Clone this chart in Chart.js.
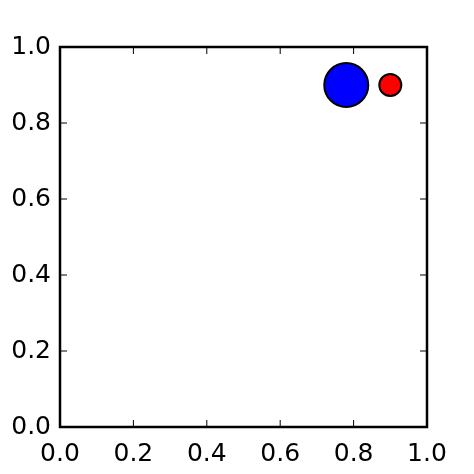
<!DOCTYPE html>
<html>
<head>
<meta charset="UTF-8">
<title>Bubbles</title>
<script src="https://cdn.jsdelivr.net/npm/chart.js"></script>
<style>
  html, body { margin: 0; padding: 0; background: #fff; }
  #wrap { width: 474px; height: 474px; }
</style>
</head>
<body>
<div id="wrap"><canvas id="chart" width="474" height="474"></canvas></div>
<script>
// data
const xValues = [0.78, 0.9];
const yValues = [0.9, 0.9];
const radii = [22, 11];
const fillColors = ['#0000ff', '#ff0000'];
const tickValues = [0, 0.2, 0.4, 0.6, 0.8, 1.0];

const points = xValues.map((x, i) => ({ x: x, y: yValues[i], r: radii[i] }));

// matplotlib-style frame with inward ticks on all four sides
const framePlugin = {
  id: 'frame',
  afterDraw(chart) {
    const { ctx, chartArea: a, scales } = chart;
    const len = 7;
    ctx.save();
    ctx.strokeStyle = '#000';
    ctx.lineWidth = 1;
    tickValues.forEach(v => {
      const px = scales.x.getPixelForValue(v);
      const py = scales.y.getPixelForValue(v);
      ctx.beginPath();
      ctx.moveTo(px, a.bottom); ctx.lineTo(px, a.bottom - len);
      ctx.moveTo(px, a.top); ctx.lineTo(px, a.top + len);
      ctx.moveTo(a.left, py); ctx.lineTo(a.left + len, py);
      ctx.moveTo(a.right, py); ctx.lineTo(a.right - len, py);
      ctx.stroke();
    });
    ctx.lineWidth = 2.5;
    ctx.strokeRect(a.left, a.top, a.right - a.left, a.bottom - a.top);
    ctx.restore();
  }
};

const tickFont = { family: 'DejaVu Sans', size: 25 };

new Chart(document.getElementById('chart'), {
  type: 'bubble',
  data: {
    datasets: [{
      data: points,
      backgroundColor: fillColors,
      borderColor: '#000',
      borderWidth: 2,
      hoverRadius: 0
    }]
  },
  options: {
    responsive: false,
    animation: false,
    layout: { padding: { top: 47, right: 47, left: 0, bottom: 0 } },
    plugins: { legend: { display: false }, tooltip: { enabled: false } },
    scales: {
      x: {
        type: 'linear', min: 0, max: 1,
        afterBuildTicks: s => { s.ticks = tickValues.map(v => ({ value: v })); },
        afterFit: s => { s.height = 47; },
        grid: { display: false, drawTicks: false },
        border: { display: false },
        ticks: { color: '#000', font: tickFont, padding: 12, maxRotation: 0,
                 callback: v => v.toFixed(1) }
      },
      y: {
        type: 'linear', min: 0, max: 1,
        afterBuildTicks: s => { s.ticks = tickValues.map(v => ({ value: v })); },
        afterFit: s => { s.width = 60; },
        grid: { display: false, drawTicks: false },
        border: { display: false },
        ticks: { color: '#000', font: tickFont, padding: 9,
                 callback: v => v.toFixed(1) }
      }
    }
  },
  plugins: [framePlugin]
});
</script>
</body>
</html>
